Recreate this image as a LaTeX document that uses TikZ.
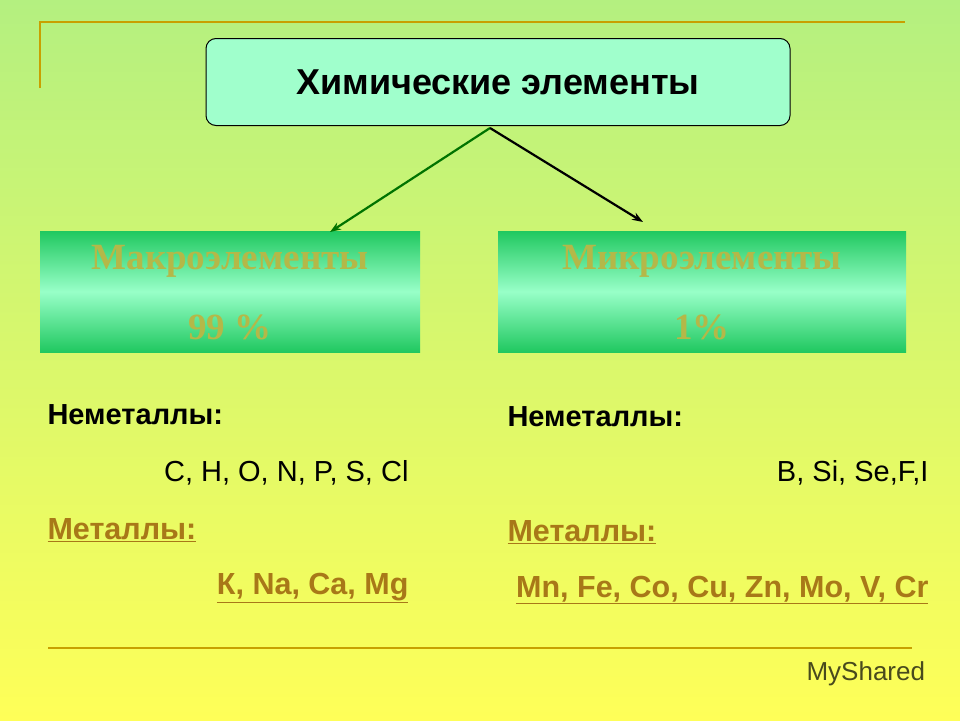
\documentclass[tikz,border=0pt]{standalone}
\usepackage{fontspec}
\setmainfont{Liberation Sans}
\newfontfamily\serifrm{Liberation Serif}
\usetikzlibrary{arrows.meta}
\definecolor{bgtop}{HTML}{B4F080}
\definecolor{bgbot}{HTML}{FFFF58}
\definecolor{gold}{HTML}{C8A000}
\definecolor{mint}{HTML}{A0FFCC}
\definecolor{gdark}{HTML}{20C860}
\definecolor{gmint}{HTML}{98FFC8}
\definecolor{olive}{HTML}{B4B848}
\definecolor{brownu}{HTML}{A87818}
\tikzset{
  gbox/.style={minimum width=#1, minimum height=121pt, inner sep=0pt, top color=gdark, bottom color=gdark, middle color=gmint, shading angle=0},
  gtext/.style={font=\serifrm\bfseries\fontsize{37}{44}\selectfont, text=olive, align=center},
  lbl/.style={font=\bfseries\fontsize{29}{34}\selectfont, anchor=west},
  val/.style={font=\fontsize{29}{34}\selectfont, anchor=east},
  metl/.style={font=\bfseries\fontsize{30.5}{34}\selectfont, text=brownu},
  arr/.style={-{Stealth[length=11pt,width=8pt]}, line width=2.2pt}
}
\begin{document}
\begin{tikzpicture}[x=1pt,y=-1pt]
\useasboundingbox (0,0) rectangle (960,720);
\shade[top color=bgtop, bottom color=bgbot] (0,0) rectangle (960,720);
\draw[gold, line width=1.6pt] (40,88) -- (40,22) -- (905,22);
\draw[gold, line width=1.6pt] (48,648) -- (912,648);
\node[draw=black, line width=1pt, fill=mint, rounded corners=10pt, minimum width=584pt, minimum height=87pt, font=\bfseries\fontsize{36}{40}\selectfont] (top) at (498,82) {Химические элементы};
\node[gbox=380pt] (ma) at (230,291.5) {};
\node[gbox=408pt] (mi) at (702,291.5) {};
\node[gtext] at (230,261) {Макроэлементы};
\node[gtext] at (230,327) {99 \%};
\node[gtext] at (702,261) {Микроэлементы};
\node[gtext] at (702,327) {1\%};
\coordinate (src) at (490,128);
\draw[arr, draw=green!45!black] (src) -- (330,232);
\draw[arr, draw=black] (src) -- (643,222);
\node[lbl] at (44,415) {Неметаллы:};
\node[val] at (412,473) {C, H, O, N, P, S, Cl};
\node[lbl, metl] at (44,530) {\underline{Металлы:}};
\node[metl, anchor=east] at (412,588) {\underline{К, Na, Ca, Mg}};
\node[lbl] at (504,417) {Неметаллы:};
\node[val] at (932,473) {B, Si, Se,F,I};
\node[lbl, metl] at (504,532) {\underline{Металлы:}};
\node[metl, anchor=east] at (932,590) {\underline{Mn, Fe, Co, Cu, Zn, Mo, V, Cr}};
\node[font=\fontsize{26}{30}\selectfont, text=black!60!olive, anchor=west] at (803,674) {MyShared};
\end{tikzpicture}
\end{document}
